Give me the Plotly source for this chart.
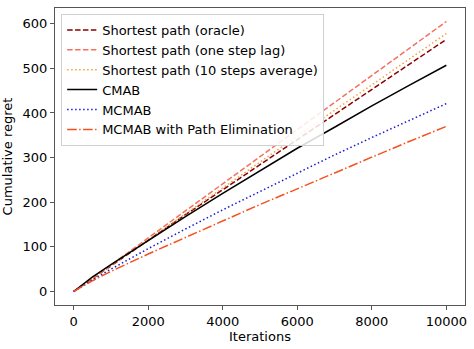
import plotly.graph_objects as go

# Iteration checkpoints
iterations = [0, 500, 1000, 2000, 3000, 4000, 5000, 6000, 7000, 8000, 9000, 10000]

# Cumulative regret of each policy
regret_oracle = [0, 29, 58, 116, 172, 228, 284, 340, 396, 452, 508, 565]
regret_lag = [0, 29, 59, 120, 180, 241, 302, 363, 424, 484, 545, 605]
regret_avg10 = [0, 29, 58, 117, 175, 233, 291, 349, 406, 463, 521, 578]
regret_cmab = [0, 32, 60, 115, 168, 220, 270, 321, 368, 416, 462, 507]
regret_mcmab = [0, 26, 50, 96, 140, 183, 224, 265, 306, 345, 383, 421]
regret_pe = [0, 24, 45, 84, 121, 158, 195, 230, 266, 301, 336, 370]

x_ticks = [0, 2000, 4000, 6000, 8000, 10000]
x_tick_labels = ["0", "2000", "4000", "6000", "8000", "10000"]
y_ticks = [0, 100, 200, 300, 400, 500, 600]

# Dash patterns in the style of matplotlib's defaults for a 1.5px line
DASHED = "5.5px,2.4px"
DOTTED = "1.5px,2.5px"
DASHDOT = "9.6px,2.4px,1.5px,2.4px"

series = [
    ("Shortest path (oracle)", regret_oracle, "#8b0000", DASHED),
    ("Shortest path (one step lag)", regret_lag, "#f4705f", DASHED),
    ("Shortest path (10 steps average)", regret_avg10, "#f5a040", DOTTED),
    ("CMAB", regret_cmab, "black", "solid"),
    ("MCMAB", regret_mcmab, "#1a1ad0", DOTTED),
    ("MCMAB with Path Elimination", regret_pe, "#f4511e", DASHDOT),
]

fig = go.Figure()
for name, values, color, dash in series:
    fig.add_trace(go.Scatter(
        x=iterations, y=values, mode="lines", name=name,
        line=dict(color=color, dash=dash, width=1.5),
    ))

font = dict(family="DejaVu Sans", size=13, color="black")
axis_common = dict(
    showline=True, linecolor="#555555", linewidth=1.2, mirror=True,
    ticks="outside", ticklen=4, tickcolor="#555555",
    showgrid=False, zeroline=False, tickfont=font,
)

fig.update_layout(
    width=474, height=349,
    margin=dict(l=54, r=9, t=7, b=42),
    paper_bgcolor="white", plot_bgcolor="white",
    font=font,
    showlegend=True,
    legend=dict(
        x=0.015, y=0.98, xanchor="left", yanchor="top",
        bgcolor="rgba(255,255,255,0.85)", bordercolor="#d0d0d0", borderwidth=1,
        font=dict(family="DejaVu Sans", size=13, color="black"),
        tracegroupgap=0,
    ),
    xaxis=dict(range=[-500, 10500], tickvals=x_ticks, ticktext=x_tick_labels,
               title=dict(text="Iterations", font=font, standoff=4), **axis_common),
    yaxis=dict(range=[-30.25, 635.25], tickvals=y_ticks,
               title=dict(text="Cumulative regret", font=font, standoff=6), **axis_common),
)

fig.write_html("out.html")
